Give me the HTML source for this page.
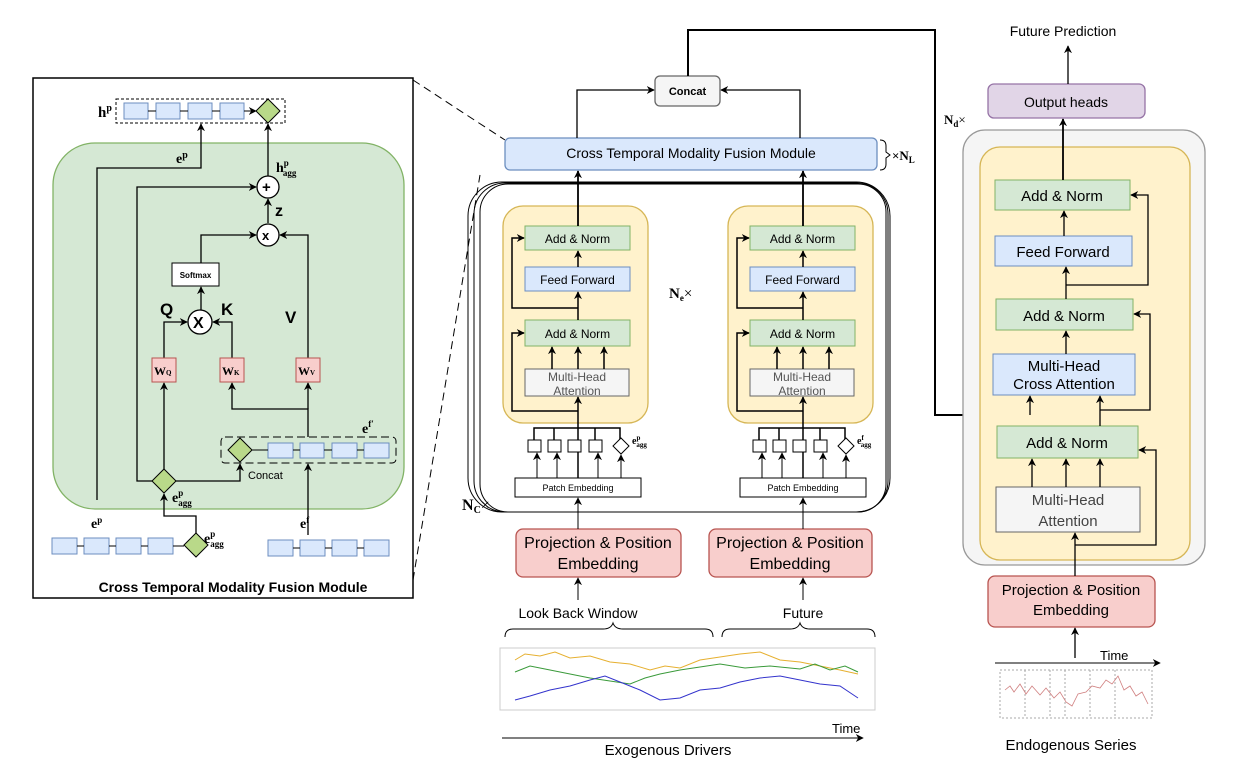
<!DOCTYPE html>
<html><head><meta charset="utf-8"><style>
html,body{margin:0;padding:0;background:#fff}
svg{display:block}
text{font-family:"Liberation Sans",sans-serif;fill:#000}
.s{font-family:"Liberation Serif",serif;font-weight:bold}
</style></head><body>
<svg width="1248" height="765" viewBox="0 0 1248 765" xmlns="http://www.w3.org/2000/svg">
<defs>
<marker id="a" viewBox="0 0 10 10" refX="9" refY="5" markerWidth="8" markerHeight="8" markerUnits="userSpaceOnUse" orient="auto"><path d="M0,0 L10,5 L0,10 L3,5 z" fill="#000"/></marker>
</defs>
<g stroke="#000" stroke-width="1.3" fill="none">
<!-- LEFT PANEL -->
<rect x="33" y="78" width="380" height="520" stroke-width="1.5"/>
<rect x="53" y="143" width="351" height="366" rx="42" fill="#d5e8d4" stroke="#82b366"/>
<line x1="413" y1="80" x2="505" y2="140" stroke-dasharray="8,5" stroke-width="1"/>
<line x1="413" y1="580" x2="480" y2="175" stroke-dasharray="8,5" stroke-width="1"/>
<rect x="116" y="99" width="169" height="24" stroke-dasharray="3,2" stroke-width="1"/>
<g fill="#dae8fc" stroke="#6c8ebf" stroke-width="1">
<rect x="124" y="103" width="24" height="16"/><rect x="156" y="103" width="24" height="16"/><rect x="188" y="103" width="24" height="16"/><rect x="220" y="103" width="24" height="16"/>
<rect x="268" y="443" width="25" height="15"/><rect x="300" y="443" width="24" height="15"/><rect x="332" y="443" width="25" height="15"/><rect x="364" y="443" width="25" height="15"/>
<rect x="52" y="538" width="25" height="16"/><rect x="84" y="538" width="25" height="16"/><rect x="116" y="538" width="25" height="16"/><rect x="148" y="538" width="25" height="16"/>
<rect x="268" y="540" width="25" height="16"/><rect x="300" y="540" width="25" height="16"/><rect x="332" y="540" width="25" height="16"/><rect x="364" y="540" width="25" height="16"/>
</g>
<path d="M148,111H156M180,111H188M212,111H220M77,546H84M109,546H116M141,546H148M173,546H184M252,450H268M293,450H300M324,450H332M357,450H364M293,548H300M325,548H332M357,548H364" stroke-width="1"/>
<path d="M244,111H256" marker-end="url(#a)" stroke-width="1"/>
<rect x="221" y="437" width="175" height="26" rx="4" stroke-dasharray="8,4" stroke-width="1"/>
<g fill="#b9d989" stroke="#000" stroke-width="1">
<path d="M268,99 L280,111 L268,123 L256,111z"/>
<path d="M240,438 L252,450 L240,462 L228,450z"/>
<path d="M164,469 L176,481 L164,493 L152,481z"/>
<path d="M196,533 L208,545 L196,557 L184,545z"/>
</g>
<path d="M97,500V168H201V124" marker-end="url(#a)"/>
<path d="M268,176V124" marker-end="url(#a)"/>
<path d="M152,481H137V187H256" marker-end="url(#a)"/>
<path d="M268,223V199" marker-end="url(#a)"/>
<path d="M201,263V235H256" marker-end="url(#a)"/>
<path d="M308,358V235H280" marker-end="url(#a)"/>
<path d="M201,310V287" marker-end="url(#a)"/>
<path d="M164,358V322H187" marker-end="url(#a)"/>
<path d="M232,358V322H213" marker-end="url(#a)"/>
<path d="M164,469V383" marker-end="url(#a)"/>
<path d="M308,437V409H232V383" marker-end="url(#a)"/>
<path d="M308,409V383" marker-end="url(#a)"/>
<path d="M176,481H240V464" marker-end="url(#a)"/>
<path d="M196,533V516H164V494" marker-end="url(#a)"/>
<path d="M308,535V464" marker-end="url(#a)"/>
<circle cx="268" cy="187" r="11" fill="#fff"/>
<circle cx="268" cy="235" r="11" fill="#fff"/>
<circle cx="200" cy="322" r="12" fill="#fff"/>
<rect x="172" y="263" width="47" height="23" fill="#fff" stroke-width="1"/>
<g fill="#f8cecc" stroke="#b85450" stroke-width="1">
<rect x="152" y="358" width="24" height="24"/><rect x="220" y="358" width="24" height="24"/><rect x="296" y="358" width="24" height="24"/>
</g>
<!-- MIDDLE -->
<rect x="505" y="138" width="372" height="32" rx="5" fill="#dae8fc" stroke="#6c8ebf"/>
<path d="M880,140 q6,0 6,6 v6 l4,3 l-4,3 v6 q0,6 -6,6" stroke-width="1"/>
<rect x="655" y="76" width="65" height="30" rx="5" fill="#f5f5f5" stroke="#666"/>
<path d="M577,138V90H654" marker-end="url(#a)"/>
<path d="M800,138V90H721" marker-end="url(#a)"/>
<path d="M688,76V30H935V415H1066V396" stroke-width="2" marker-end="url(#a)"/>
<rect x="468" y="182" width="422" height="330" rx="34" stroke-width="1"/>
<rect x="474" y="183" width="414" height="329" rx="31" stroke-width="1"/>
<rect x="480" y="184" width="406" height="328" rx="28" stroke-width="1"/>
<!-- encoder left -->
<rect x="503" y="206" width="145" height="217" rx="20" fill="#fff2cc" stroke="#d6b656"/>
<rect x="525" y="226" width="105" height="24" fill="#d5e8d4" stroke="#82b366" stroke-width="1"/>
<rect x="525" y="267" width="105" height="24" fill="#dae8fc" stroke="#6c8ebf" stroke-width="1"/>
<rect x="525" y="320" width="105" height="26" fill="#d5e8d4" stroke="#82b366" stroke-width="1"/>
<rect x="525" y="369" width="104" height="27" fill="#f5f5f5" stroke="#666" stroke-width="1"/>
<path d="M578,226V171" stroke-width="1.8" marker-end="url(#a)"/>
<path d="M578,267V251" stroke-width="1.5" marker-end="url(#a)"/>
<path d="M578,320V292" stroke-width="1.5" marker-end="url(#a)"/>
<path d="M578,308H512V238H524" stroke-width="1.5" marker-end="url(#a)"/>
<path d="M552,369V347" stroke-width="1.5" marker-end="url(#a)"/>
<path d="M578,369V347" stroke-width="1.5" marker-end="url(#a)"/>
<path d="M604,369V347" stroke-width="1.5" marker-end="url(#a)"/>
<path d="M578,478V397" stroke-width="1.5" marker-end="url(#a)"/>
<path d="M578,411H512V333H524" stroke-width="1.5" marker-end="url(#a)"/>
<path d="M534,440V428H620V440M554,428V440M595,428V440" stroke-width="1.5"/>
<g fill="#fff" stroke-width="1"><rect x="528" y="440" width="13" height="12"/><rect x="548" y="440" width="13" height="12"/><rect x="568" y="440" width="13" height="12"/><rect x="589" y="440" width="13" height="12"/><path d="M621,438 L629,446 L621,454 L613,446z"/></g>
<path d="M537,478V453" stroke-width="1" marker-end="url(#a)"/>
<path d="M557,478V453" stroke-width="1" marker-end="url(#a)"/>
<path d="M598,478V453" stroke-width="1" marker-end="url(#a)"/>
<path d="M621,478V455" stroke-width="1" marker-end="url(#a)"/>
<rect x="515" y="478" width="126" height="19" fill="#fff" stroke-width="1"/>
<rect x="516" y="529" width="165" height="48" rx="7" fill="#f8cecc" stroke="#b85450"/>
<path d="M578,529V498" stroke-width="1" marker-end="url(#a)"/>
<path d="M578,600V578" stroke-width="1" marker-end="url(#a)"/>
<!-- encoder right -->
<rect x="728" y="206" width="145" height="217" rx="20" fill="#fff2cc" stroke="#d6b656"/>
<rect x="750" y="226" width="105" height="24" fill="#d5e8d4" stroke="#82b366" stroke-width="1"/>
<rect x="750" y="267" width="105" height="24" fill="#dae8fc" stroke="#6c8ebf" stroke-width="1"/>
<rect x="750" y="320" width="105" height="26" fill="#d5e8d4" stroke="#82b366" stroke-width="1"/>
<rect x="750" y="369" width="104" height="27" fill="#f5f5f5" stroke="#666" stroke-width="1"/>
<path d="M803,226V171" stroke-width="1.8" marker-end="url(#a)"/>
<path d="M803,267V251" stroke-width="1.5" marker-end="url(#a)"/>
<path d="M803,320V292" stroke-width="1.5" marker-end="url(#a)"/>
<path d="M803,308H737V238H749" stroke-width="1.5" marker-end="url(#a)"/>
<path d="M777,369V347" stroke-width="1.5" marker-end="url(#a)"/>
<path d="M803,369V347" stroke-width="1.5" marker-end="url(#a)"/>
<path d="M829,369V347" stroke-width="1.5" marker-end="url(#a)"/>
<path d="M803,478V397" stroke-width="1.5" marker-end="url(#a)"/>
<path d="M803,411H737V333H749" stroke-width="1.5" marker-end="url(#a)"/>
<path d="M759,440V428H845V440M779,428V440M820,428V440" stroke-width="1.5"/>
<g fill="#fff" stroke-width="1"><rect x="753" y="440" width="13" height="12"/><rect x="773" y="440" width="13" height="12"/><rect x="793" y="440" width="13" height="12"/><rect x="814" y="440" width="13" height="12"/><path d="M846,438 L854,446 L846,454 L838,446z"/></g>
<path d="M762,478V453" stroke-width="1" marker-end="url(#a)"/>
<path d="M782,478V453" stroke-width="1" marker-end="url(#a)"/>
<path d="M823,478V453" stroke-width="1" marker-end="url(#a)"/>
<path d="M846,478V455" stroke-width="1" marker-end="url(#a)"/>
<rect x="740" y="478" width="126" height="19" fill="#fff" stroke-width="1"/>
<rect x="709" y="529" width="163" height="48" rx="7" fill="#f8cecc" stroke="#b85450"/>
<path d="M803,529V498" stroke-width="1" marker-end="url(#a)"/>
<path d="M803,600V578" stroke-width="1" marker-end="url(#a)"/>

<path d="M505,637q0,-8 8,-8h90q8,0 10,-6q2,6 10,6h82q8,0 8,8" stroke-width="1"/>
<path d="M722,637q0,-8 8,-8h60q8,0 10,-6q2,6 10,6h57q8,0 8,8" stroke-width="1"/>
<rect x="500" y="648" width="375" height="62" stroke="#ccc" stroke-width="1"/>
<polyline points="515,660 525,654 540,656 555,652 570,658 590,656 610,662 630,664 650,670 665,666 680,668 700,660 720,657 740,654 760,652 780,660 800,662 820,666 840,670 858,674" stroke="#e6b030" stroke-width="1"/>
<polyline points="515,672 530,666 545,669 570,674 590,678 610,681 630,684 645,678 660,674 680,670 700,667 720,664 745,668 770,666 800,669 815,664 830,670 845,666 858,672" stroke="#3a9a3a" stroke-width="1"/>
<polyline points="515,700 530,696 550,690 570,686 590,680 605,676 620,682 640,690 660,700 680,698 700,690 720,688 740,682 760,678 780,676 800,680 820,684 840,686 858,698" stroke="#3333cc" stroke-width="1"/>
<path d="M502,738H863" stroke-width="1" marker-end="url(#a)"/>
<!-- RIGHT -->
<rect x="988" y="84" width="157" height="34" rx="6" fill="#e1d5e7" stroke="#9673a6"/>
<path d="M1068,84V46" marker-end="url(#a)"/>
<rect x="963" y="130" width="242" height="435" rx="22" fill="#f5f5f5" stroke="#999"/>
<rect x="980" y="147" width="210" height="413" rx="20" fill="#fff2cc" stroke="#d6b656"/>
<rect x="995" y="180" width="135" height="30" fill="#d5e8d4" stroke="#82b366" stroke-width="1"/>
<rect x="995" y="236" width="137" height="30" fill="#dae8fc" stroke="#6c8ebf" stroke-width="1"/>
<rect x="996" y="299" width="137" height="31" fill="#d5e8d4" stroke="#82b366" stroke-width="1"/>
<rect x="993" y="354" width="142" height="41" fill="#dae8fc" stroke="#6c8ebf" stroke-width="1"/>
<rect x="997" y="426" width="141" height="32" fill="#d5e8d4" stroke="#82b366" stroke-width="1"/>
<rect x="996" y="487" width="144" height="45" fill="#f5f5f5" stroke="#666" stroke-width="1"/>
<rect x="988" y="576" width="167" height="51" rx="7" fill="#f8cecc" stroke="#b85450"/>
<path d="M1063,180V119" stroke-width="1.8" marker-end="url(#a)"/>
<path d="M1064,236V211" marker-end="url(#a)"/>
<path d="M1066,299V267" marker-end="url(#a)"/>
<path d="M1066,285H1148V195H1131" marker-end="url(#a)"/>
<path d="M1066,354V331" marker-end="url(#a)"/>
<path d="M1030,415V396" marker-end="url(#a)"/>
<path d="M1100,426V396" marker-end="url(#a)"/>
<path d="M1100,410H1150V314H1134" marker-end="url(#a)"/>
<path d="M1032,487V459" marker-end="url(#a)"/>
<path d="M1066,487V459" marker-end="url(#a)"/>
<path d="M1100,487V459" marker-end="url(#a)"/>
<path d="M1075,576V533" marker-end="url(#a)"/>
<path d="M1075,545H1156V450H1139" marker-end="url(#a)"/>
<path d="M1075,658V628" marker-end="url(#a)"/>
<path d="M995,663H1160" stroke-width="1" marker-end="url(#a)"/>
<rect x="1000" y="670" width="152" height="48" stroke="#aaa" stroke-dasharray="2,2" stroke-width="1"/>
<path d="M1025,670V718M1050,670V718M1065,670V718M1090,670V718M1115,670V718" stroke="#aaa" stroke-dasharray="2,2" stroke-width="1"/>
<polyline points="1005,690 1010,686 1014,692 1020,684 1026,694 1032,686 1040,695 1046,688 1054,698 1060,692 1066,702 1072,706 1078,694 1086,692 1092,686 1100,688 1106,680 1112,684 1118,676 1124,690 1130,686 1136,696 1142,692 1148,704" stroke="#d08080" stroke-width="0.8"/>
</g>
<!-- TEXT -->
<g font-size="13">
<text x="98" y="117" class="s" font-size="15">h<tspan font-size="10" dy="-6">p</tspan></text>
<text x="176" y="163" class="s" font-size="14">e<tspan font-size="10" dy="-5">p</tspan></text>
<text x="276" y="172" class="s" font-size="14">h<tspan font-size="9" dy="-6">p</tspan><tspan font-size="9" dx="-6" dy="10">agg</tspan></text>
<text x="262" y="192" font-size="15" font-weight="bold">+</text>
<text x="262" y="240" font-size="13" font-weight="bold">x</text>
<text x="275" y="216" font-size="16" font-weight="bold">z</text>
<text x="195.5" y="278" font-size="8" font-weight="bold" text-anchor="middle">Softmax</text>
<text x="193" y="328" font-size="16" font-weight="bold">X</text>
<text x="160" y="315" font-size="17" font-weight="bold">Q</text>
<text x="221" y="315" font-size="17" font-weight="bold">K</text>
<text x="285" y="323" font-size="17" font-weight="bold">V</text>
<text x="154" y="375" class="s" font-size="12">W<tspan font-size="7">Q</tspan></text>
<text x="222" y="375" class="s" font-size="12">W<tspan font-size="7">K</tspan></text>
<text x="298" y="375" class="s" font-size="12">W<tspan font-size="7">V</tspan></text>
<text x="362" y="433" class="s" font-size="14">e<tspan font-size="9" dy="-6">f′</tspan></text>
<text x="248" y="479" font-size="11">Concat</text>
<text x="172" y="502" class="s" font-size="14">e<tspan font-size="9" dy="-6">p</tspan><tspan font-size="9" dx="-5" dy="10">agg</tspan></text>
<text x="91" y="528" class="s" font-size="14">e<tspan font-size="9" dy="-5">p</tspan></text>
<text x="204" y="543" class="s" font-size="14">e<tspan font-size="9" dy="-6">p</tspan><tspan font-size="9" dx="-5" dy="10">agg</tspan></text>
<text x="300" y="528" class="s" font-size="14">e<tspan font-size="9" dy="-5">f</tspan></text>
<text x="233" y="592" font-size="14" font-weight="bold" text-anchor="middle">Cross Temporal Modality Fusion Module</text>

<text x="691" y="158" font-size="14" text-anchor="middle">Cross Temporal Modality Fusion Module</text>
<text x="892" y="160" class="s" font-size="13">×N<tspan font-size="9" dy="3">L</tspan></text>
<text x="687.5" y="95" font-size="11" font-weight="bold" text-anchor="middle">Concat</text>
<text x="669" y="298" class="s" font-size="15">N<tspan font-size="9" dy="3">e</tspan><tspan dy="-3" font-weight="normal">×</tspan></text>
<text x="462" y="510" class="s" font-size="16">N<tspan font-size="10" dy="3">C</tspan><tspan dy="-3" font-weight="normal">×</tspan></text>
<text x="577.5" y="243" font-size="12" text-anchor="middle">Add &amp; Norm</text>
<text x="577.5" y="284" font-size="12" text-anchor="middle">Feed Forward</text>
<text x="577.5" y="338" font-size="12" text-anchor="middle">Add &amp; Norm</text>
<text x="577" y="381" font-size="12" text-anchor="middle" style="fill:#555">Multi-Head</text>
<text x="577" y="395" font-size="12" text-anchor="middle" style="fill:#555">Attention</text>
<text x="802.5" y="243" font-size="12" text-anchor="middle">Add &amp; Norm</text>
<text x="802.5" y="284" font-size="12" text-anchor="middle">Feed Forward</text>
<text x="802.5" y="338" font-size="12" text-anchor="middle">Add &amp; Norm</text>
<text x="802" y="381" font-size="12" text-anchor="middle" style="fill:#555">Multi-Head</text>
<text x="802" y="395" font-size="12" text-anchor="middle" style="fill:#555">Attention</text>
<text x="632" y="444" class="s" font-size="10">e<tspan font-size="7" dy="-4">p</tspan><tspan font-size="7" dx="-4" dy="7">agg</tspan></text>
<text x="857" y="444" class="s" font-size="10">e<tspan font-size="7" dy="-4">f</tspan><tspan font-size="7" dx="-3" dy="7">agg</tspan></text>
<text x="578" y="491" font-size="9" text-anchor="middle">Patch Embedding</text>
<text x="803" y="491" font-size="9" text-anchor="middle">Patch Embedding</text>
<text x="598" y="548" font-size="16" text-anchor="middle">Projection &amp; Position</text>
<text x="598" y="569" font-size="16" text-anchor="middle">Embedding</text>
<text x="790" y="548" font-size="16" text-anchor="middle">Projection &amp; Position</text>
<text x="790" y="569" font-size="16" text-anchor="middle">Embedding</text>
<text x="578" y="618" font-size="14" text-anchor="middle">Look Back Window</text>
<text x="803" y="618" font-size="14" text-anchor="middle">Future</text>
<text x="832" y="733" font-size="13">Time</text>
<text x="668" y="755" font-size="15" text-anchor="middle">Exogenous  Drivers</text>

<text x="1063" y="36" font-size="14" text-anchor="middle">Future Prediction</text>
<text x="1066" y="107" font-size="14" text-anchor="middle">Output heads</text>
<text x="944" y="124" class="s" font-size="13">N<tspan font-size="9" dy="3">d</tspan><tspan dy="-3" font-weight="normal">×</tspan></text>
<text x="1062" y="201" font-size="15" text-anchor="middle">Add &amp; Norm</text>
<text x="1063" y="257" font-size="15" text-anchor="middle">Feed Forward</text>
<text x="1064" y="321" font-size="15" text-anchor="middle">Add &amp; Norm</text>
<text x="1064" y="371" font-size="15" text-anchor="middle">Multi-Head</text>
<text x="1064" y="389" font-size="15" text-anchor="middle">Cross Attention</text>
<text x="1067" y="448" font-size="15" text-anchor="middle">Add &amp; Norm</text>
<text x="1068" y="505" font-size="15" text-anchor="middle" style="fill:#444">Multi-Head</text>
<text x="1068" y="526" font-size="15" text-anchor="middle" style="fill:#444">Attention</text>
<text x="1071" y="595" font-size="15" text-anchor="middle">Projection &amp; Position</text>
<text x="1071" y="615" font-size="15" text-anchor="middle">Embedding</text>
<text x="1100" y="660" font-size="13">Time</text>
<text x="1071" y="750" font-size="15" text-anchor="middle">Endogenous Series</text>
</g>
</svg>
</body></html>
